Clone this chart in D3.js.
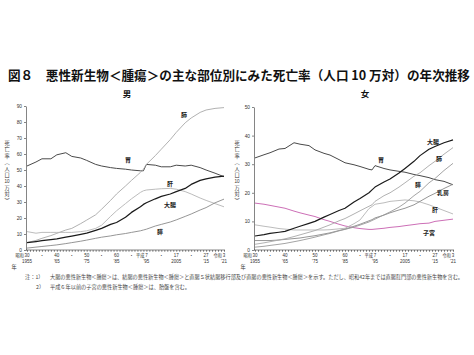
<!DOCTYPE html>
<html><head><meta charset="utf-8">
<script src="https://cdn.jsdelivr.net/npm/d3@7"></script>
<style>body{margin:0;background:#fff} svg{display:block} text{font-family:"Noto Sans CJK JP","Noto Sans",sans-serif} .num{font-family:"Liberation Sans",Arial,sans-serif}</style>
</head><body><svg id="c" width="474" height="355"></svg>
<script>
// ---- data ----
const years = [1955,1958,1960,1963,1965,1968,1970,1973,1975,1978,1980,1983,1985,1988,1990,1993,1994,1995,1998,2000,2003,2005,2008,2010,2013,2015,2018,2021];

const maleStomach  = [52.5,55,57,57,59.5,60.8,58.5,57.5,56,53.5,52.5,51.5,51,50.5,50,49.5,49.5,53.5,53,52,52,53,52.5,53,51.5,50,48,45.8];
const maleLung     = [4.6,6,7.3,9,10.4,12.5,13.5,16.5,18.7,22,25.5,31,35,40,43.5,48.5,50.5,53.5,59,63,69,73.5,79.5,82.5,86,87.5,88.5,89];
const maleLiver    = [11.5,10.5,11,11,11,11,11,11.5,12,13.5,15.5,21,24.5,29,32,36,37,37.5,38,38.3,38.5,38,36.5,35,32.5,31,29,27];
const maleColon    = [4.6,5.3,5.8,6.5,7,8,8.7,9.8,10.5,12.3,13.5,16,17.2,20.5,23.5,27,28.5,29.5,32,33.5,35,36.5,38.5,41,43.5,44.5,45.5,46.2];
const malePancreas = [1.2,1.8,2.2,2.8,3.2,4,4.6,5.5,6.2,7.3,8,8.8,9.5,10.3,11,12,12.5,13,15,16,17.5,18.8,21,22.5,25,26.5,29.5,31.8];

const femaleStomach  = [32.2,33.3,34,35.3,35.5,37.5,37,36.5,35,33.8,33.2,31.6,30.5,29.8,29.2,28.2,28,29.5,28.5,28,27.5,27.2,26.4,26,25.3,24.6,24,22.8];
const femaleColon    = [4.9,5.4,5.8,6.2,6.5,7.6,8.3,9.3,10,11.5,12.4,13.8,14.6,16.8,18,20,21,22,23.8,24.8,26.9,28.5,31,33,35.2,36.2,37.5,38.5];
const femaleLung     = [2,2.5,2.9,3.5,3.9,4.7,5.3,6.2,6.8,8,8.8,10.2,11,12.6,13.7,15.3,15.8,17,19,20,22,23.5,25.8,27,29.5,31,33.5,35.8];
const femalePancreas = [1,1.3,1.6,2,2.3,2.9,3.3,4,4.5,5.3,5.8,6.7,7.2,8,8.7,9.8,10.3,10.8,12.3,13.3,15,16.4,19,20.5,23.5,25,27.8,30.3];
const femaleBreast   = [3.3,3.3,3.3,3.5,3.7,4,4.2,4.7,5,5.6,6,6.8,7.3,8.3,9,10.2,10.6,11.2,12.2,13,14,14.6,15.8,17,18.8,19.8,21.5,23];
const femaleLiver    = [8.8,8.3,8,7.5,7.3,7,7,7,7,7,7.1,7.4,7.6,9.2,10.5,14.5,15.2,16,16.5,17,17.3,17.5,17.2,16.8,15.8,15,13.8,12.6];
const femaleUterus   = [16.4,16,15.6,15,14.6,13.6,13,12.2,11.7,10.6,10,9,8.4,7.8,7.5,7.2,7.2,7.3,7.6,7.9,8.2,8.5,8.9,9.2,9.4,10,10.4,10.8];

const maleNames   = ["胃","肺","肝","大腸","膵"];
const femaleNames = ["胃","大腸","肺","膵","乳房","肝","子宮"];
// label anchor points in data units [year, value]
const maleLabelAt   = [[1988.8,56.3],[2007.6,84.4],[2002.9,41.3],[2002.9,28.1],[1999.6,11.3]];
const femaleLabelAt = [[1997,31.4],[2014.3,37.8],[2016.3,31.8],[2009.3,22.7],[2017.7,19.9],[2015,14],[2013,5.9]];

const maleTicks   = [0,10,20,30,40,50,60,70,80,90];
const femaleTicks = [0,10,20,30,40,50];
const xLabelYears = [1955,1960,1965,1970,1975,1980,1985,1990,1995,2000,2005,2010,2015,2021];
const xLabels1    = ["30","・","40","・","50","・","60","・","7","・","17","・","27","3"];
const eraYears    = [1955,1995,2021];
const eraNames    = ["昭和","平成","令和"];
const xLabel2Years = [1955,1965,1975,1985,1995,2005,2015,2021];
const xLabels2     = ["1955","'65","'75","'85","'95","2005","'15","'21"];
const yTitleChars  = ["死","亡","率","︵","人","口","10","万","対","︶"];

const title = "図８　悪性新生物＜腫瘍＞の主な部位別にみた死亡率（人口 10 万対）の年次推移";
const note1a = "注：1）";
const note1b = "大腸の悪性新生物＜腫瘍＞は、結腸の悪性新生物＜腫瘍＞と直腸Ｓ状結腸移行部及び直腸の悪性新生物＜腫瘍＞を示す。ただし、昭和42年までは直腸肛門部の悪性新生物を含む。";
const note2a = "2）";
const note2b = "平成６年以前の子宮の悪性新生物＜腫瘍＞は、胎盤を含む。";

// ---- drawing ----
const svg = d3.select("#c");
svg.append("rect").attr("width",474).attr("height",355).attr("fill","#fff");

svg.append("text").attr("x",8).attr("y",80).attr("font-size",12.6).attr("font-weight","bold")
  .attr("fill","#111").attr("textLength",462).attr("lengthAdjust","spacingAndGlyphs").text(title);

function panel(cfg){
  const x = d3.scaleLinear().domain([1955,2021]).range(cfg.xr);
  const y = d3.scaleLinear().domain([0,cfg.ymax]).range([250,cfg.ytop]);
  const g = svg.append("g");
  g.append("text").attr("x",cfg.headX).attr("y",96.5).attr("text-anchor","middle")
    .attr("font-size",8.5).attr("font-weight","bold").attr("fill","#111").text(cfg.head);
  // y axis
  const ya = g.append("g").attr("transform",`translate(${cfg.xr[0]-1},0)`)
    .call(d3.axisLeft(y).tickValues(cfg.ticks).tickSize(2).tickSizeOuter(0).tickPadding(2));
  ya.selectAll("text").attr("class","num").attr("font-size",4.8).attr("fill","#333");
  ya.selectAll("path,line").attr("stroke","#333").attr("stroke-width",0.6);
  // x axis
  const xa = g.append("g").attr("transform","translate(0,250)")
    .call(d3.axisBottom(x).tickValues(d3.range(1955,2022)).tickSize(1.8).tickSizeOuter(0).tickFormat(""));
  xa.select("path").attr("d",`M${cfg.xr[0]-1},0H${cfg.xr[1]+1}`);
  xa.selectAll("path,line").attr("stroke","#333").attr("stroke-width",0.6);
  xLabelYears.forEach((yr,i)=>{
    g.append("text").attr("class",xLabels1[i]==="・"?null:"num").attr("x",x(yr)).attr("y",257.3).attr("text-anchor","middle")
      .attr("font-size",4.5).attr("fill","#333").text(xLabels1[i]);
  });
  eraYears.forEach((yr,i)=>{
    const w = yr===1955 ? 3 : 2;
    g.append("text").attr("x",x(yr)-w).attr("y",257.3).attr("text-anchor","end")
      .attr("font-size",4.2).attr("fill","#333").text(eraNames[i]);
  });
  xLabel2Years.forEach((yr,i)=>{
    g.append("text").attr("class","num").attr("x",x(yr)).attr("y",262.6).attr("text-anchor","middle")
      .attr("font-size",4.5).attr("fill","#333").text(xLabels2[i]);
  });
  g.append("text").attr("x",cfg.nenX).attr("y",269).attr("text-anchor","middle")
    .attr("font-size",5.2).attr("fill","#333").text("年");
  // vertical y title
  let yy = 145;
  yTitleChars.forEach((ch)=>{
    g.append("text").attr("class",ch==="10"?"num":null).attr("x",cfg.ytX).attr("y",yy).attr("text-anchor","middle")
      .attr("font-size",ch==="10"?4.6:5.2).attr("fill","#333").text(ch);
    yy += 6.4;
  });
  // lines
  const line = d3.line().x((d,i)=>x(years[i])).y(d=>y(d));
  cfg.series.forEach(s=>{
    g.append("path").attr("d",line(s.values)).attr("fill","none")
      .attr("stroke",s.color).attr("stroke-width",s.w).attr("stroke-linejoin","round");
  });
  cfg.names.forEach((n,i)=>{
    const p = cfg.labelAt[i];
    g.append("text").attr("x",x(p[0])).attr("y",y(p[1])+2.2).attr("text-anchor","middle")
      .attr("font-size",6).attr("font-weight","bold").attr("fill","#222").text(n);
  });
}

panel({xr:[27,224], ymax:90, ytop:106, ticks:maleTicks, head:"男", headX:127, nenX:14, ytX:7,
  names:maleNames, labelAt:maleLabelAt,
  series:[
    {values:maleStomach, color:"#4a4a4a", w:1},
    {values:maleLung, color:"#a8a8a8", w:0.9},
    {values:maleLiver, color:"#b4b4b4", w:0.9},
    {values:maleColon, color:"#1a1a1a", w:1.25},
    {values:malePancreas, color:"#8a8a8a", w:0.9}
  ]});

panel({xr:[255,453], ymax:50, ytop:107, ticks:femaleTicks, head:"女", headX:365, nenX:243, ytX:237,
  names:femaleNames, labelAt:femaleLabelAt,
  series:[
    {values:femaleStomach, color:"#4a4a4a", w:1},
    {values:femaleUterus, color:"#c65fae", w:0.9},
    {values:femaleLiver, color:"#b4b4b4", w:0.9},
    {values:femaleBreast, color:"#8a8a8a", w:0.9},
    {values:femalePancreas, color:"#9a9a9a", w:0.9},
    {values:femaleLung, color:"#a8a8a8", w:0.9},
    {values:femaleColon, color:"#1a1a1a", w:1.2}
  ]});

// footnotes
svg.append("text").attr("x",25).attr("y",279).attr("font-size",5.2).attr("fill","#444").text(note1a);
svg.append("text").attr("x",50).attr("y",279).attr("font-size",5.2).attr("fill","#444")
  .attr("textLength",413).attr("lengthAdjust","spacingAndGlyphs").text(note1b);
svg.append("text").attr("x",36).attr("y",288.5).attr("font-size",5.2).attr("fill","#444").text(note2a);
svg.append("text").attr("x",50).attr("y",288.5).attr("font-size",5.2).attr("fill","#444")
  .attr("textLength",140).attr("lengthAdjust","spacingAndGlyphs").text(note2b);
</script></body></html>
